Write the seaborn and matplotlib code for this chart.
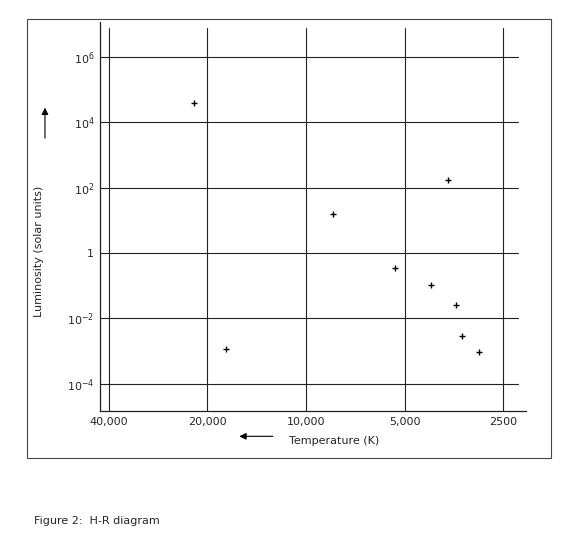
import numpy as np
import pandas as pd
import matplotlib
matplotlib.use("Agg")
import matplotlib.pyplot as plt
import seaborn as sns
from matplotlib.patches import Rectangle

# star data
temperature = [22000, 17500, 8300, 5350, 4150, 3680, 3500, 3340, 2960]
luminosity = [3.9e4, 1.15e-3, 15.5, 0.35, 0.105, 170, 0.026, 0.0029, 0.00093]
x_ticks = [40000, 20000, 10000, 5000, 2500]
x_labels = ["40,000", "20,000", "10,000", "5,000", "2500"]
y_ticks = [1e-4, 1e-2, 1, 1e2, 1e4, 1e6]
y_labels = ["10$^{-4}$", "10$^{-2}$", "1", "10$^{2}$", "10$^{4}$", "10$^{6}$"]

df = pd.DataFrame({"T": temperature, "L": luminosity})

sns.set_style("white")
plt.rcParams["font.family"] = ["DejaVu Sans"]

fig = plt.figure(figsize=(5.84, 5.38), dpi=100)
ax = fig.add_axes([0.171, 0.236, 0.73, 0.723])

sns.scatterplot(data=df, x="T", y="L", marker="+", color="black", s=25,
                linewidth=1, ax=ax)
ax.set_xscale("log")
ax.set_yscale("log")
ax.set_xlim(42600, 2130)
ax.set_ylim(10 ** -4.83, 10 ** 7.06)

ax.set_xticks(x_ticks)
ax.set_xticklabels(x_labels, fontsize=8)
ax.set_yticks(y_ticks)
ax.set_yticklabels(y_labels, fontsize=8)
ax.minorticks_off()
ax.tick_params(length=0, pad=4)

for t in x_ticks:
    ax.axvline(t, ymax=0.985, color="#222222", lw=0.8, zorder=0)
for l in y_ticks:
    ax.axhline(l, xmin=0.0, xmax=0.98, color="#222222", lw=0.8, zorder=0)

for s in ["top", "right"]:
    ax.spines[s].set_visible(False)
for s in ["left", "bottom"]:
    ax.spines[s].set_color("#222222")
    ax.spines[s].set_linewidth(0.9)

ax.set_xlabel("Temperature (K)", fontsize=8)
ax.set_ylabel("Luminosity (solar units)", fontsize=8)
ax.xaxis.set_label_coords(0.55, -0.065)
ax.yaxis.set_label_coords(-0.13, 0.41)

# arrows beside the axis labels
fig.add_artist(plt.Annotation("", xy=(0.405, 0.189), xytext=(0.472, 0.189),
                              xycoords="figure fraction",
                              arrowprops=dict(arrowstyle="-|>", color="black", lw=0.8)))
fig.add_artist(plt.Annotation("", xy=(0.077, 0.805), xytext=(0.077, 0.738),
                              xycoords="figure fraction",
                              arrowprops=dict(arrowstyle="-|>", color="black", lw=0.8)))

# outer frame and caption
fig.add_artist(Rectangle((27 / 584, 1 - 458 / 538), 524 / 584, 439 / 538,
                         transform=fig.transFigure, fill=False, ec="#444444", lw=0.8))
fig.text(34 / 584, 1 - 521 / 538, "Figure 2:  H-R diagram", fontsize=8, va="center")

fig.savefig("out.png", dpi=100)
